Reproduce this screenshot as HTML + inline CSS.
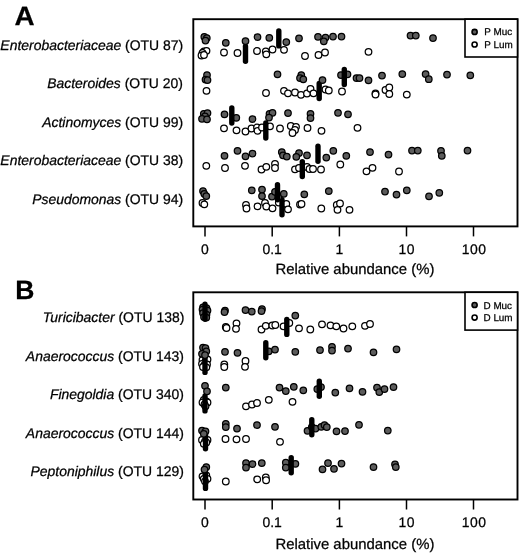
<!DOCTYPE html>
<html><head><meta charset="utf-8"><title>Figure</title>
<style>
html,body{margin:0;padding:0;background:#fff}
svg{display:block}
text{font-family:"Liberation Sans",sans-serif;text-rendering:geometricPrecision;fill:#000;stroke:#000;stroke-width:0.25px}
.pl{font-size:26.5px;font-weight:bold}
.lab{font-size:13.95px}
.ax{font-size:14.9px}
.lt{font-size:9.9px;stroke-width:0.25px}
.m circle{fill:#5c5c5c;stroke:#000;stroke-width:1.25}
.l circle{fill:#fff;stroke:#000;stroke-width:1.25}
.bar{stroke:#000;stroke-width:5.4;stroke-linecap:round}
.fr{fill:none;stroke:#000;stroke-width:1.9}
.lg{fill:#fff;stroke:#000;stroke-width:1.6}
.tk{stroke:#000;stroke-width:1.5}
.lm{fill:#5c5c5c;stroke:#000;stroke-width:1.6}
.ll{fill:#fff;stroke:#000;stroke-width:1.6}
</style></head>
<body>
<svg width="520" height="553" viewBox="0 0 520 553">
<rect x="0" y="0" width="520" height="553" fill="#fff"/>
<text class="pl" transform="translate(14.5 25.4) scale(1.05 1)">A</text>
<text class="lab" x="183.2" y="49.5" text-anchor="end"><tspan font-style="italic">Enterobacteriaceae</tspan> (OTU 87)</text>
<text class="lab" x="182.8" y="88.0" text-anchor="end"><tspan font-style="italic">Bacteroides</tspan> (OTU 20)</text>
<text class="lab" x="183.2" y="126.5" text-anchor="end"><tspan font-style="italic">Actinomyces</tspan> (OTU 99)</text>
<text class="lab" x="183.2" y="165.0" text-anchor="end"><tspan font-style="italic">Enterobacteriaceae</tspan> (OTU 38)</text>
<text class="lab" x="183.2" y="203.5" text-anchor="end"><tspan font-style="italic">Pseudomonas</tspan> (OTU 94)</text>
<g class="l"><circle cx="204" cy="51.3" r="3.3"/><circle cx="206.5" cy="50.8" r="3.3"/><circle cx="202.5" cy="53" r="3.3"/><circle cx="201.5" cy="55.5" r="3.3"/><circle cx="204" cy="55" r="3.3"/><circle cx="224" cy="52.5" r="3.3"/><circle cx="237.5" cy="53" r="3.3"/><circle cx="257" cy="51" r="3.3"/><circle cx="265.8" cy="51.3" r="3.3"/><circle cx="266.3" cy="54.3" r="3.3"/><circle cx="272.5" cy="49.5" r="3.3"/><circle cx="284" cy="49.8" r="3.3"/><circle cx="305" cy="56" r="3.3"/><circle cx="318.5" cy="55" r="3.3"/><circle cx="325" cy="52.5" r="3.3"/><circle cx="368.5" cy="51.8" r="3.3"/></g>
<line class="bar" x1="245.5" y1="46.2" x2="245.5" y2="61.2"/>
<g class="m"><circle cx="204.3" cy="36.8" r="3.25"/><circle cx="206.8" cy="38" r="3.25"/><circle cx="205.5" cy="40.5" r="3.25"/><circle cx="225.8" cy="42.8" r="3.25"/><circle cx="245.5" cy="41" r="3.25"/><circle cx="257.5" cy="37" r="3.25"/><circle cx="269.3" cy="37.8" r="3.25"/><circle cx="286.3" cy="42" r="3.25"/><circle cx="299" cy="38.3" r="3.25"/><circle cx="318" cy="36.8" r="3.25"/><circle cx="325.5" cy="37.5" r="3.25"/><circle cx="323.8" cy="41.3" r="3.25"/><circle cx="333" cy="36.5" r="3.25"/><circle cx="341.5" cy="36.5" r="3.25"/><circle cx="410.5" cy="35.5" r="3.25"/><circle cx="415.8" cy="35.5" r="3.25"/><circle cx="433" cy="38" r="3.25"/></g>
<line class="bar" x1="278.8" y1="30.9" x2="278.8" y2="45.9"/>
<g class="l"><circle cx="206.5" cy="90.8" r="3.3"/><circle cx="266" cy="93" r="3.3"/><circle cx="284" cy="90.8" r="3.3"/><circle cx="288" cy="93.3" r="3.3"/><circle cx="295" cy="92.5" r="3.3"/><circle cx="301" cy="94.8" r="3.3"/><circle cx="307" cy="93.5" r="3.3"/><circle cx="310.5" cy="88.8" r="3.3"/><circle cx="313.5" cy="93.3" r="3.3"/><circle cx="325.5" cy="89.5" r="3.3"/><circle cx="328.8" cy="90.5" r="3.3"/><circle cx="342" cy="91.5" r="3.3"/><circle cx="375.5" cy="93.3" r="3.3"/><circle cx="375.5" cy="94.5" r="3.3"/><circle cx="385.5" cy="90" r="3.3"/><circle cx="389.3" cy="87.5" r="3.3"/><circle cx="389.3" cy="94" r="3.3"/><circle cx="406.8" cy="94.6" r="3.3"/></g>
<line class="bar" x1="319.2" y1="83.5" x2="319.2" y2="98.5"/>
<g class="m"><circle cx="207" cy="75" r="3.25"/><circle cx="205.5" cy="79.5" r="3.25"/><circle cx="207.5" cy="80" r="3.25"/><circle cx="277.5" cy="74.3" r="3.25"/><circle cx="301.3" cy="75" r="3.25"/><circle cx="300" cy="78" r="3.25"/><circle cx="303.3" cy="79.3" r="3.25"/><circle cx="322.5" cy="80" r="3.25"/><circle cx="341" cy="75" r="3.25"/><circle cx="347.5" cy="74.3" r="3.25"/><circle cx="356.5" cy="78" r="3.25"/><circle cx="359.5" cy="78" r="3.25"/><circle cx="368.5" cy="80.3" r="3.25"/><circle cx="382" cy="75.5" r="3.25"/><circle cx="402.3" cy="74" r="3.25"/><circle cx="425.6" cy="74.1" r="3.25"/><circle cx="428.8" cy="79.2" r="3.25"/><circle cx="447" cy="74.6" r="3.25"/><circle cx="470.3" cy="75.3" r="3.25"/></g>
<line class="bar" x1="344.3" y1="69.5" x2="344.3" y2="84.5"/>
<g class="l"><circle cx="224" cy="128.3" r="3.3"/><circle cx="236.5" cy="130.3" r="3.3"/><circle cx="245.5" cy="131.5" r="3.3"/><circle cx="251.5" cy="128.5" r="3.3"/><circle cx="257" cy="127.5" r="3.3"/><circle cx="257.5" cy="130.8" r="3.3"/><circle cx="262" cy="127.5" r="3.3"/><circle cx="270" cy="126.3" r="3.3"/><circle cx="280" cy="128.5" r="3.3"/><circle cx="290.8" cy="126" r="3.3"/><circle cx="296" cy="126.8" r="3.3"/><circle cx="295" cy="130" r="3.3"/><circle cx="292.5" cy="133" r="3.3"/><circle cx="307.5" cy="128" r="3.3"/><circle cx="321.5" cy="130.8" r="3.3"/><circle cx="357.5" cy="127.8" r="3.3"/></g>
<line class="bar" x1="265.8" y1="123.0" x2="265.8" y2="138.0"/>
<g class="m"><circle cx="203.8" cy="113.8" r="3.25"/><circle cx="207.5" cy="113" r="3.25"/><circle cx="205" cy="116.3" r="3.25"/><circle cx="202" cy="118.8" r="3.25"/><circle cx="207" cy="119.3" r="3.25"/><circle cx="224.5" cy="114.3" r="3.25"/><circle cx="236.3" cy="117.8" r="3.25"/><circle cx="252.5" cy="119" r="3.25"/><circle cx="269.5" cy="113.8" r="3.25"/><circle cx="272.5" cy="112.8" r="3.25"/><circle cx="269" cy="117.5" r="3.25"/><circle cx="288" cy="113" r="3.25"/><circle cx="310.5" cy="113.8" r="3.25"/><circle cx="310.5" cy="118" r="3.25"/><circle cx="338" cy="112.8" r="3.25"/><circle cx="348" cy="114.3" r="3.25"/></g>
<line class="bar" x1="231.8" y1="108.0" x2="231.8" y2="123.0"/>
<g class="l"><circle cx="206.3" cy="165.8" r="3.3"/><circle cx="225" cy="168" r="3.3"/><circle cx="245" cy="165.8" r="3.3"/><circle cx="261.5" cy="169.5" r="3.3"/><circle cx="266.3" cy="166.8" r="3.3"/><circle cx="275" cy="163.8" r="3.3"/><circle cx="275" cy="168" r="3.3"/><circle cx="295" cy="169.3" r="3.3"/><circle cx="299" cy="168" r="3.3"/><circle cx="307" cy="167" r="3.3"/><circle cx="309.5" cy="169" r="3.3"/><circle cx="313" cy="169" r="3.3"/><circle cx="321" cy="169.5" r="3.3"/><circle cx="340.3" cy="164.5" r="3.3"/><circle cx="366.5" cy="171.3" r="3.3"/><circle cx="372.5" cy="167.8" r="3.3"/><circle cx="399" cy="171.5" r="3.3"/></g>
<line class="bar" x1="302.3" y1="161.6" x2="302.3" y2="176.6"/>
<g class="m"><circle cx="224.5" cy="155.8" r="3.25"/><circle cx="237.5" cy="150.8" r="3.25"/><circle cx="245.5" cy="156.3" r="3.25"/><circle cx="252.5" cy="153.5" r="3.25"/><circle cx="281.8" cy="152" r="3.25"/><circle cx="283" cy="155.3" r="3.25"/><circle cx="286.8" cy="156.5" r="3.25"/><circle cx="299" cy="153" r="3.25"/><circle cx="296.3" cy="156.8" r="3.25"/><circle cx="307" cy="155.3" r="3.25"/><circle cx="326.3" cy="157.5" r="3.25"/><circle cx="333.3" cy="150.8" r="3.25"/><circle cx="346.3" cy="155.8" r="3.25"/><circle cx="370" cy="152" r="3.25"/><circle cx="388.5" cy="154.5" r="3.25"/><circle cx="412" cy="150.5" r="3.25"/><circle cx="417.8" cy="150.5" r="3.25"/><circle cx="441" cy="150.8" r="3.25"/><circle cx="441.8" cy="155.8" r="3.25"/><circle cx="467.5" cy="150.5" r="3.25"/></g>
<line class="bar" x1="318" y1="146.2" x2="318" y2="161.2"/>
<g class="l"><circle cx="202.5" cy="203" r="3.3"/><circle cx="204.3" cy="204.3" r="3.3"/><circle cx="246" cy="205" r="3.3"/><circle cx="246.5" cy="208.5" r="3.3"/><circle cx="257.5" cy="206.3" r="3.3"/><circle cx="265" cy="203" r="3.3"/><circle cx="266.3" cy="206.5" r="3.3"/><circle cx="272.5" cy="208.3" r="3.3"/><circle cx="278.8" cy="202.5" r="3.3"/><circle cx="286.3" cy="204" r="3.3"/><circle cx="288" cy="209.3" r="3.3"/><circle cx="300" cy="204.5" r="3.3"/><circle cx="301.5" cy="204" r="3.3"/><circle cx="321.3" cy="208.5" r="3.3"/><circle cx="336.8" cy="205" r="3.3"/><circle cx="340" cy="203.5" r="3.3"/><circle cx="337.5" cy="209.8" r="3.3"/><circle cx="349.5" cy="209.8" r="3.3"/></g>
<line class="bar" x1="282" y1="199.7" x2="282" y2="214.7"/>
<g class="m"><circle cx="203" cy="191" r="3.25"/><circle cx="204.3" cy="193.8" r="3.25"/><circle cx="206.3" cy="196" r="3.25"/><circle cx="251.8" cy="190.3" r="3.25"/><circle cx="262" cy="189.5" r="3.25"/><circle cx="262" cy="196" r="3.25"/><circle cx="272" cy="196.5" r="3.25"/><circle cx="275" cy="191.8" r="3.25"/><circle cx="278.5" cy="196.8" r="3.25"/><circle cx="283.8" cy="193.8" r="3.25"/><circle cx="304.3" cy="194.3" r="3.25"/><circle cx="328.8" cy="191" r="3.25"/><circle cx="385" cy="191.5" r="3.25"/><circle cx="396.5" cy="194.5" r="3.25"/><circle cx="406.8" cy="190.3" r="3.25"/><circle cx="429" cy="196.3" r="3.25"/><circle cx="439.3" cy="192.8" r="3.25"/></g>
<line class="bar" x1="277.5" y1="184.7" x2="277.5" y2="199.7"/>
<rect class="fr" x="193.3" y="19.2" width="324.2" height="207.2"/>
<line class="tk" x1="205" y1="226.39999999999998" x2="205" y2="236.39999999999998"/>
<text class="lab" x="205" y="253.99999999999997" text-anchor="middle">0</text>
<line class="tk" x1="272.2" y1="226.39999999999998" x2="272.2" y2="236.39999999999998"/>
<text class="lab" x="272.2" y="253.99999999999997" text-anchor="middle">0.1</text>
<line class="tk" x1="339.4" y1="226.39999999999998" x2="339.4" y2="236.39999999999998"/>
<text class="lab" x="339.4" y="253.99999999999997" text-anchor="middle">1</text>
<line class="tk" x1="406.5" y1="226.39999999999998" x2="406.5" y2="236.39999999999998"/>
<text class="lab" x="406.75" y="253.99999999999997" text-anchor="middle" letter-spacing="0.5">10</text>
<line class="tk" x1="473.5" y1="226.39999999999998" x2="473.5" y2="236.39999999999998"/>
<text class="lab" x="474.15" y="253.99999999999997" text-anchor="middle" letter-spacing="0.5">100</text>
<text class="ax" x="354.9" y="273.5" text-anchor="middle">Relative abundance (%)</text>
<rect class="lg" x="465" y="19.2" width="52.5" height="37.8"/>
<circle class="lm" cx="474.6" cy="31.9" r="2.55"/>
<circle class="ll" cx="474.6" cy="44.5" r="2.55"/>
<text class="lt" x="484.3" y="35.4">P Muc</text>
<text class="lt" x="484.3" y="48.0">P Lum</text>
<text class="pl" x="15.35" y="298.5">B</text>
<text class="lab" x="184.3" y="322.2" text-anchor="end"><tspan font-style="italic">Turicibacter</tspan> (OTU 138)</text>
<text class="lab" x="183.9" y="360.7" text-anchor="end"><tspan font-style="italic">Anaerococcus</tspan> (OTU 143)</text>
<text class="lab" x="183.9" y="399.2" text-anchor="end"><tspan font-style="italic">Finegoldia</tspan> (OTU 340)</text>
<text class="lab" x="183.9" y="437.7" text-anchor="end"><tspan font-style="italic">Anaerococcus</tspan> (OTU 144)</text>
<text class="lab" x="183.9" y="476.2" text-anchor="end"><tspan font-style="italic">Peptoniphilus</tspan> (OTU 129)</text>
<g class="l"><circle cx="225.8" cy="327" r="3.3"/><circle cx="226.5" cy="328" r="3.3"/><circle cx="236.5" cy="323.3" r="3.3"/><circle cx="236" cy="328.8" r="3.3"/><circle cx="261.5" cy="329.5" r="3.3"/><circle cx="265.8" cy="325.8" r="3.3"/><circle cx="272.3" cy="325.5" r="3.3"/><circle cx="275.3" cy="325" r="3.3"/><circle cx="283.5" cy="326.3" r="3.3"/><circle cx="289.3" cy="323" r="3.3"/><circle cx="299" cy="328.3" r="3.3"/><circle cx="310.3" cy="329.5" r="3.3"/><circle cx="322" cy="324.3" r="3.3"/><circle cx="330.5" cy="325.3" r="3.3"/><circle cx="336.3" cy="326.3" r="3.3"/><circle cx="343.5" cy="328.5" r="3.3"/><circle cx="352.3" cy="326.3" r="3.3"/><circle cx="365" cy="325.8" r="3.3"/><circle cx="370" cy="324" r="3.3"/></g>
<line class="bar" x1="286.8" y1="319.4" x2="286.8" y2="334.4"/>
<g class="m"><circle cx="203" cy="307.3" r="3.25"/><circle cx="206.5" cy="308" r="3.25"/><circle cx="202.5" cy="309.5" r="3.25"/><circle cx="207.5" cy="310.5" r="3.25"/><circle cx="203" cy="313" r="3.25"/><circle cx="206.5" cy="314.5" r="3.25"/><circle cx="204" cy="317" r="3.25"/><circle cx="206.3" cy="317.5" r="3.25"/><circle cx="225" cy="310.5" r="3.25"/><circle cx="224.5" cy="312" r="3.25"/><circle cx="245.5" cy="310" r="3.25"/><circle cx="251.8" cy="311.5" r="3.25"/><circle cx="262" cy="309" r="3.25"/><circle cx="261.5" cy="311" r="3.25"/><circle cx="295.3" cy="315.5" r="3.25"/></g>
<line class="bar" x1="205" y1="304.3" x2="205" y2="319.3"/>
<g class="l"><circle cx="202.5" cy="360" r="3.3"/><circle cx="205.5" cy="361.3" r="3.3"/><circle cx="207.5" cy="359.5" r="3.3"/><circle cx="202" cy="363.8" r="3.3"/><circle cx="204.5" cy="365" r="3.3"/><circle cx="207" cy="364.5" r="3.3"/><circle cx="206.3" cy="367.3" r="3.3"/><circle cx="203" cy="367" r="3.3"/><circle cx="224.3" cy="364.5" r="3.3"/><circle cx="224.3" cy="367" r="3.3"/><circle cx="245.5" cy="361" r="3.3"/><circle cx="245" cy="366.8" r="3.3"/></g>
<line class="bar" x1="205" y1="357.4" x2="205" y2="372.4"/>
<g class="m"><circle cx="203" cy="347.5" r="3.25"/><circle cx="205.5" cy="348" r="3.25"/><circle cx="206.3" cy="351.3" r="3.25"/><circle cx="202" cy="353.8" r="3.25"/><circle cx="205" cy="355" r="3.25"/><circle cx="225" cy="351.8" r="3.25"/><circle cx="237.5" cy="352.8" r="3.25"/><circle cx="268.8" cy="351.3" r="3.25"/><circle cx="275" cy="349.5" r="3.25"/><circle cx="295.3" cy="351.8" r="3.25"/><circle cx="320" cy="350" r="3.25"/><circle cx="332" cy="346.8" r="3.25"/><circle cx="332" cy="350.5" r="3.25"/><circle cx="348" cy="348.5" r="3.25"/><circle cx="373.5" cy="352.3" r="3.25"/><circle cx="396.5" cy="349.3" r="3.25"/></g>
<line class="bar" x1="265.8" y1="342.7" x2="265.8" y2="357.7"/>
<g class="l"><circle cx="203.8" cy="400" r="3.3"/><circle cx="206.3" cy="401.3" r="3.3"/><circle cx="202.5" cy="402.5" r="3.3"/><circle cx="207.5" cy="402.5" r="3.3"/><circle cx="204.5" cy="404.5" r="3.3"/><circle cx="205.5" cy="406.3" r="3.3"/><circle cx="246" cy="406.3" r="3.3"/><circle cx="252" cy="404.5" r="3.3"/><circle cx="257" cy="403" r="3.3"/><circle cx="268.8" cy="399.8" r="3.3"/><circle cx="292.5" cy="401.8" r="3.3"/></g>
<line class="bar" x1="205" y1="395.9" x2="205" y2="410.9"/>
<g class="m"><circle cx="205" cy="385.8" r="3.25"/><circle cx="207" cy="391.3" r="3.25"/><circle cx="225.8" cy="387.5" r="3.25"/><circle cx="279.5" cy="387.5" r="3.25"/><circle cx="285.8" cy="391" r="3.25"/><circle cx="293.8" cy="386.8" r="3.25"/><circle cx="303.3" cy="390.3" r="3.25"/><circle cx="317.3" cy="389" r="3.25"/><circle cx="321" cy="387" r="3.25"/><circle cx="335.3" cy="392.5" r="3.25"/><circle cx="349.5" cy="388.3" r="3.25"/><circle cx="362.5" cy="391.8" r="3.25"/><circle cx="377" cy="387.5" r="3.25"/><circle cx="379.3" cy="392" r="3.25"/><circle cx="384.5" cy="389" r="3.25"/><circle cx="393.5" cy="387" r="3.25"/></g>
<line class="bar" x1="319.3" y1="381.2" x2="319.3" y2="396.2"/>
<g class="l"><circle cx="202" cy="440" r="3.3"/><circle cx="205" cy="441.3" r="3.3"/><circle cx="207.5" cy="440" r="3.3"/><circle cx="206.3" cy="442.5" r="3.3"/><circle cx="203.8" cy="443.8" r="3.3"/><circle cx="225.5" cy="439" r="3.3"/><circle cx="236.5" cy="439.3" r="3.3"/><circle cx="246" cy="439" r="3.3"/><circle cx="280" cy="441.8" r="3.3"/></g>
<line class="bar" x1="205.5" y1="433.8" x2="205.5" y2="448.8"/>
<g class="m"><circle cx="202" cy="430.5" r="3.25"/><circle cx="205.5" cy="431.3" r="3.25"/><circle cx="203.8" cy="433.8" r="3.25"/><circle cx="225.8" cy="423.8" r="3.25"/><circle cx="225.8" cy="427" r="3.25"/><circle cx="237" cy="428.5" r="3.25"/><circle cx="257" cy="425" r="3.25"/><circle cx="275" cy="426.8" r="3.25"/><circle cx="307.5" cy="430.8" r="3.25"/><circle cx="311.8" cy="427" r="3.25"/><circle cx="315.5" cy="428.5" r="3.25"/><circle cx="321.3" cy="426.8" r="3.25"/><circle cx="324.5" cy="425" r="3.25"/><circle cx="326.8" cy="427" r="3.25"/><circle cx="336.5" cy="431.3" r="3.25"/><circle cx="345" cy="431" r="3.25"/><circle cx="359" cy="424.8" r="3.25"/><circle cx="387.8" cy="430.5" r="3.25"/></g>
<line class="bar" x1="311.8" y1="419.7" x2="311.8" y2="434.7"/>
<g class="l"><circle cx="202.5" cy="476.3" r="3.3"/><circle cx="206.3" cy="475.5" r="3.3"/><circle cx="203.8" cy="478.8" r="3.3"/><circle cx="207.5" cy="478.8" r="3.3"/><circle cx="205" cy="481.3" r="3.3"/><circle cx="225.8" cy="481.5" r="3.3"/><circle cx="257.2" cy="479.3" r="3.3"/><circle cx="265.8" cy="477.5" r="3.3"/><circle cx="266.1" cy="480.2" r="3.3"/></g>
<line class="bar" x1="205.5" y1="473.4" x2="205.5" y2="488.4"/>
<g class="m"><circle cx="206.3" cy="467" r="3.25"/><circle cx="204.5" cy="469.5" r="3.25"/><circle cx="246" cy="463" r="3.25"/><circle cx="246" cy="467.5" r="3.25"/><circle cx="252.5" cy="464" r="3.25"/><circle cx="261.8" cy="463" r="3.25"/><circle cx="285.8" cy="462.5" r="3.25"/><circle cx="285.8" cy="467.5" r="3.25"/><circle cx="295.4" cy="463.8" r="3.25"/><circle cx="322.5" cy="469.3" r="3.25"/><circle cx="328" cy="463" r="3.25"/><circle cx="334" cy="468.8" r="3.25"/><circle cx="341.5" cy="463.5" r="3.25"/><circle cx="373.5" cy="467" r="3.25"/><circle cx="395" cy="464.3" r="3.25"/><circle cx="395.8" cy="467" r="3.25"/></g>
<line class="bar" x1="291.2" y1="457.8" x2="291.2" y2="472.8"/>
<rect class="fr" x="193.3" y="292.3" width="324.2" height="207.2"/>
<line class="tk" x1="205" y1="499.5" x2="205" y2="509.5"/>
<text class="lab" x="205" y="527.1" text-anchor="middle">0</text>
<line class="tk" x1="272.2" y1="499.5" x2="272.2" y2="509.5"/>
<text class="lab" x="272.2" y="527.1" text-anchor="middle">0.1</text>
<line class="tk" x1="339.4" y1="499.5" x2="339.4" y2="509.5"/>
<text class="lab" x="339.4" y="527.1" text-anchor="middle">1</text>
<line class="tk" x1="406.5" y1="499.5" x2="406.5" y2="509.5"/>
<text class="lab" x="406.75" y="527.1" text-anchor="middle" letter-spacing="0.5">10</text>
<line class="tk" x1="473.5" y1="499.5" x2="473.5" y2="509.5"/>
<text class="lab" x="474.15" y="527.1" text-anchor="middle" letter-spacing="0.5">100</text>
<text class="ax" x="354.9" y="549.0" text-anchor="middle">Relative abundance (%)</text>
<rect class="lg" x="465" y="292.3" width="52.5" height="37.8"/>
<circle class="lm" cx="474.6" cy="305.0" r="2.55"/>
<circle class="ll" cx="474.6" cy="317.6" r="2.55"/>
<text class="lt" x="483.5" y="308.5">D Muc</text>
<text class="lt" x="483.5" y="321.1">D Lum</text>
</svg>
</body></html>
